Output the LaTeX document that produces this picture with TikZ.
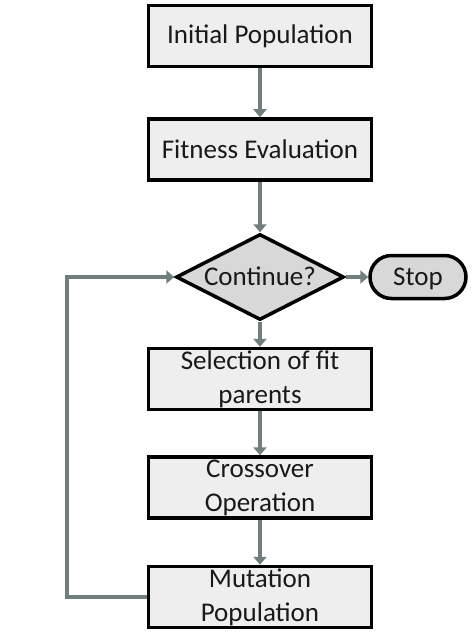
\documentclass[tikz,border=0pt]{standalone}
\usepackage{fontspec}
\setmainfont{Carlito}
\usetikzlibrary{shapes.geometric,shapes.misc,arrows.meta}
\definecolor{conn}{RGB}{112,126,126}
\definecolor{boxfill}{RGB}{238,238,238}
\definecolor{decfill}{RGB}{216,216,216}
\definecolor{txt}{RGB}{25,25,25}
\tikzset{
  stepbox/.style={draw=black,line width=3.5pt,fill=boxfill,text=txt,minimum width=223pt,minimum height=61pt,inner sep=0pt,align=center,font=\fontsize{27}{34}\selectfont},
  decbox/.style={draw=black,line width=3.5pt,fill=decfill,text=txt,shape=diamond,aspect=2,minimum width=168pt,minimum height=86pt,inner sep=0pt,text height=17pt,text depth=0pt,font=\fontsize{27}{30}\selectfont},
  stopbox/.style={draw=black,line width=3.5pt,fill=decfill,text=txt,shape=rounded rectangle,minimum width=96pt,minimum height=43pt,inner sep=0pt,text height=17pt,text depth=0pt,font=\fontsize{27}{30}\selectfont},
  conline/.style={draw=conn,line width=4pt,-{Triangle[width=13pt,length=8pt]}}
}
\begin{document}
\begin{tikzpicture}[x=1pt,y=1pt]
\useasboundingbox (0,0) rectangle (474,-644);
\node[stepbox] (init) at (260,-36) {Initial Population};
\node[stepbox] (fit) at (260,-149.5) {Fitness Evaluation};
\node[decbox] (cont) at (260,-277) {Continue?};
\node[stopbox] (stop) at (418,-277) {Stop};
\node[stepbox] (sel) at (260,-379) {Selection of fit\\parents};
\node[stepbox] (cross) at (260,-487.5) {Crossover\\Operation};
\node[stepbox] (mut) at (260,-597) {Mutation\\Population};
\draw[conline] (init.south) -- (fit.north);
\draw[conline] (fit.south) -- (cont.north);
\draw[conline] (cont.east) -- (stop.west);
\draw[conline] (cont.south) -- (sel.north);
\draw[conline] (sel.south) -- (cross.north);
\draw[conline] (cross.south) -- (mut.north);
\coordinate (lb) at ([xshift=-80pt]mut.west);
\draw[conline] (mut.west) -- (lb) |- (cont.west);
\end{tikzpicture}
\end{document}
